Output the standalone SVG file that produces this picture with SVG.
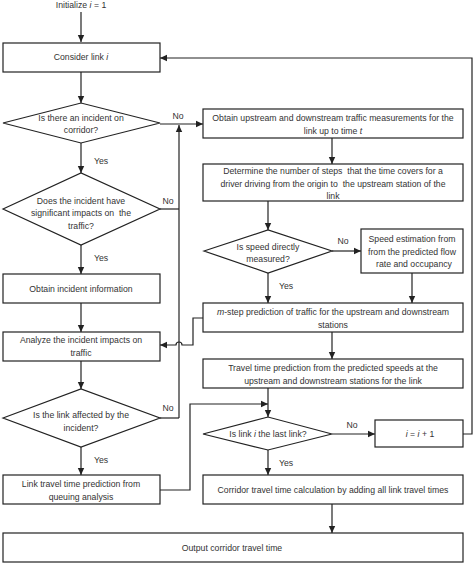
<svg xmlns="http://www.w3.org/2000/svg" width="474" height="566" viewBox="0 0 474 566">
<style>
.n{fill:#fff;stroke:#222;stroke-width:1.2}
.c{fill:none;stroke:#222;stroke-width:1.2}
text{font-family:"Liberation Sans",Arial,sans-serif;font-size:8.7px;fill:#333;text-anchor:middle}
.it{font-style:italic}
</style>
<defs>
<marker id="a" markerUnits="userSpaceOnUse" markerWidth="8" markerHeight="8" refX="7" refY="4" orient="auto">
<path d="M0,0.8 L7,4 L0,7.2 Z" fill="#222"/>
</marker>
</defs>
<rect width="474" height="566" fill="#fff"/>
<g id="connectors">
<path class="c" d="M81,12 V42" marker-end="url(#a)"/>
<path class="c" d="M81,72 V103" marker-end="url(#a)"/>
<path class="c" d="M160,124 H203" marker-end="url(#a)"/>
<path class="c" d="M81,143 V173" marker-end="url(#a)"/>
<path class="c" d="M160,209 H179"/>
<path class="c" d="M179,418 V125" marker-end="url(#a)"/>
<path class="c" d="M160,418 H179"/>
<path class="c" d="M81,245 V274" marker-end="url(#a)"/>
<path class="c" d="M81,303 V332" marker-end="url(#a)"/>
<path class="c" d="M203,318 H193 V345 H182 A3,3 0 0 0 176,345 H160" marker-end="url(#a)"/>
<path class="c" d="M81,361 V389" marker-end="url(#a)"/>
<path class="c" d="M81,447 V475" marker-end="url(#a)"/>
<path class="c" d="M160,490 H190 V404 H268" marker-end="url(#a)"/>
<path class="c" d="M332,138 V164" marker-end="url(#a)"/>
<path class="c" d="M268,201 V230" marker-end="url(#a)"/>
<path class="c" d="M332,251 H361" marker-end="url(#a)"/>
<path class="c" d="M268,273 V303" marker-end="url(#a)"/>
<path class="c" d="M412,273 V303" marker-end="url(#a)"/>
<path class="c" d="M332,332 V359" marker-end="url(#a)"/>
<path class="c" d="M268,388 V417" marker-end="url(#a)"/>
<path class="c" d="M332,434 H375" marker-end="url(#a)"/>
<path class="c" d="M463,434 H472 V58 H160" marker-end="url(#a)"/>
<path class="c" d="M268,450 V475" marker-end="url(#a)"/>
<path class="c" d="M332,504 V533" marker-end="url(#a)"/>
<text x="178" y="119">No</text>
<text x="168" y="204">No</text>
<text x="168" y="411">No</text>
<text x="101" y="164">Yes</text>
<text x="101" y="261">Yes</text>
<text x="101" y="463">Yes</text>
<text x="343" y="244">No</text>
<text x="286" y="289">Yes</text>
<text x="352" y="428">No</text>
<text x="286" y="466">Yes</text>
</g>
<g id="init"><text x="81" y="8">Initialize <tspan class="it">i</tspan> = 1</text></g>
<g id="consider"><rect class="n" x="3" y="43" width="157" height="29"/><text x="81" y="60">Consider link <tspan class="it">i</tspan></text></g>
<g id="d1"><path class="n" d="M3,123 L81,103 L160,123 L81,143 Z"/><text x="81" y="121">Is there an incident on</text><text x="81" y="133">corridor?</text></g>
<g id="d2"><path class="n" d="M3,209 L81,173 L160,209 L81,245 Z"/><text x="81" y="204">Does the incident have</text><text x="81" y="216" xml:space="preserve">significant impacts on  the</text><text x="81" y="229">traffic?</text></g>
<g id="obtainInc"><rect class="n" x="3" y="274" width="157" height="29"/><text x="81" y="292">Obtain incident information</text></g>
<g id="analyze"><rect class="n" x="3" y="332" width="157" height="29"/><text x="81" y="343">Analyze the incident impacts on</text><text x="81" y="356">traffic</text></g>
<g id="d3"><path class="n" d="M3,418 L81,389 L160,418 L81,447 Z"/><text x="81" y="418">Is the link affected by the</text><text x="81" y="431">incident?</text></g>
<g id="queue"><rect class="n" x="3" y="475" width="157" height="29"/><text x="81" y="487">Link travel time prediction from</text><text x="81" y="500">queuing analysis</text></g>
<g id="obtainUp"><rect class="n" x="203" y="109" width="260" height="29"/><text x="333" y="121">Obtain upstream and downstream traffic measurements for the</text><text x="333" y="134">link up to time <tspan class="it">t</tspan></text></g>
<g id="determine"><rect class="n" x="203" y="164" width="260" height="37"/><text x="333" y="174" xml:space="preserve">Determine the number of steps  that the time covers for a</text><text x="333" y="187" xml:space="preserve">driver driving from the origin to  the upstream station of the</text><text x="333" y="199">link</text></g>
<g id="d4"><path class="n" d="M204,251 L268,230 L332,251 L268,273 Z"/><text x="268" y="250">Is speed directly</text><text x="268" y="262">measured?</text></g>
<g id="speedEst"><rect class="n" x="361" y="229" width="102" height="44"/><text x="412" y="242">Speed estimation from</text><text x="412" y="255">from the predicted flow</text><text x="414" y="267">rate and occupancy</text></g>
<g id="mstep"><rect class="n" x="203" y="303" width="260" height="29"/><text x="333" y="315"><tspan class="it">m</tspan>-step prediction of traffic for the upstream and downstream</text><text x="333" y="328">stations</text></g>
<g id="travel"><rect class="n" x="203" y="359" width="260" height="29"/><text x="333" y="371">Travel time prediction from the predicted speeds at the</text><text x="333" y="384">upstream and downstream stations for the link</text></g>
<g id="d5"><path class="n" d="M203,434 L268,417 L332,434 L268,450 Z"/><text x="268" y="437">Is link <tspan class="it">i</tspan> the last link?</text></g>
<g id="incr"><rect class="n" x="375" y="420" width="88" height="27"/><text x="420" y="437"><tspan class="it">i</tspan> = <tspan class="it">i</tspan> + 1</text></g>
<g id="corridor"><rect class="n" x="203" y="475" width="260" height="29"/><text x="333" y="493">Corridor travel time calculation by adding all link travel times</text></g>
<g id="output"><rect class="n" x="3" y="533" width="460" height="29"/><text x="232" y="551">Output corridor travel time</text></g>
</svg>
